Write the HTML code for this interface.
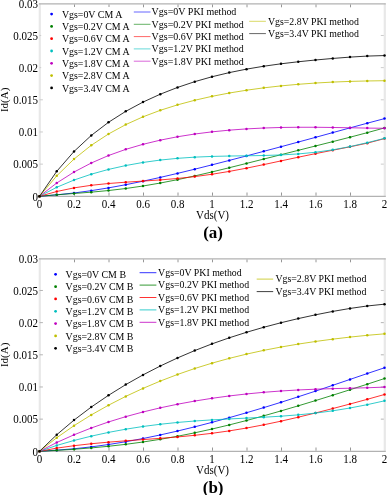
<!DOCTYPE html>
<html><head><meta charset="utf-8"><title>Id-Vds curves</title>
<style>html,body{margin:0;padding:0;background:#fff;width:388px;height:495px;overflow:hidden}svg{display:block}</style>
</head><body>
<svg width="388" height="495" viewBox="0 0 388 495" font-family="'Liberation Serif','Times New Roman',serif">
<rect width="388" height="495" fill="#fff"/>
<path d="M39.8 3.5V196.3M384.8 3.5V196.3" stroke="#e8e8e8" stroke-width="2.2" fill="none"/>
<path d="M38.9 3.9H385.8M38.9 196.3H385.8" stroke="#b2b2b2" stroke-width="1.3" fill="none"/>
<path d="M74.50 195.70v-3.2M74.50 4.50v2.8M109.00 195.70v-3.2M109.00 4.50v2.8M143.50 195.70v-3.2M143.50 4.50v2.8M178.00 195.70v-3.2M178.00 4.50v2.8M212.50 195.70v-3.2M212.50 4.50v2.8M247.00 195.70v-3.2M247.00 4.50v2.8M281.50 195.70v-3.2M281.50 4.50v2.8M316.00 195.70v-3.2M316.00 4.50v2.8M350.50 195.70v-3.2M350.50 4.50v2.8" stroke="#8a8a8a" stroke-width="0.9" fill="none"/>
<path d="M39.5 164.14h3.4M383.8 164.14h-3M39.5 131.97h3.4M383.8 131.97h-3M39.5 99.81h3.4M383.8 99.81h-3M39.5 67.64h3.4M383.8 67.64h-3M39.5 35.47h3.4M383.8 35.47h-3" stroke="#cccccc" stroke-width="1" fill="none"/>
<polyline points="39.50,196.30 56.75,194.84 74.00,192.99 91.25,190.65 108.50,187.88 125.75,184.71 143.00,181.20 160.25,177.40 177.50,173.38 194.75,169.18 212.00,164.85 229.25,160.42 246.50,155.91 263.75,151.34 281.00,146.72 298.25,142.05 315.50,137.35 332.75,132.62 350.00,127.88 367.25,123.19 384.50,118.62" fill="none" stroke="#0000ff" stroke-width="0.8"/>
<g fill="#0000ff"><circle cx="39.50" cy="196.30" r="1.25"/><circle cx="56.75" cy="194.84" r="1.25"/><circle cx="74.00" cy="192.99" r="1.25"/><circle cx="91.25" cy="190.65" r="1.25"/><circle cx="108.50" cy="187.88" r="1.25"/><circle cx="125.75" cy="184.71" r="1.25"/><circle cx="143.00" cy="181.20" r="1.25"/><circle cx="160.25" cy="177.40" r="1.25"/><circle cx="177.50" cy="173.38" r="1.25"/><circle cx="194.75" cy="169.18" r="1.25"/><circle cx="212.00" cy="164.85" r="1.25"/><circle cx="229.25" cy="160.42" r="1.25"/><circle cx="246.50" cy="155.91" r="1.25"/><circle cx="263.75" cy="151.34" r="1.25"/><circle cx="281.00" cy="146.72" r="1.25"/><circle cx="298.25" cy="142.05" r="1.25"/><circle cx="315.50" cy="137.35" r="1.25"/><circle cx="332.75" cy="132.62" r="1.25"/><circle cx="350.00" cy="127.88" r="1.25"/><circle cx="367.25" cy="123.19" r="1.25"/><circle cx="384.50" cy="118.62" r="1.25"/></g>
<polyline points="39.50,196.30 56.75,194.78 74.00,193.51 91.25,192.17 108.50,190.54 125.75,188.50 143.00,186.00 160.25,183.04 177.50,179.66 194.75,175.93 212.00,171.93 229.25,167.73 246.50,163.42 263.75,159.06 281.00,154.69 298.25,150.33 315.50,145.98 332.75,141.63 350.00,137.21 367.25,132.67 384.50,127.93" fill="none" stroke="#008000" stroke-width="0.8"/>
<g fill="#008000"><circle cx="39.50" cy="196.30" r="1.25"/><circle cx="56.75" cy="194.78" r="1.25"/><circle cx="74.00" cy="193.51" r="1.25"/><circle cx="91.25" cy="192.17" r="1.25"/><circle cx="108.50" cy="190.54" r="1.25"/><circle cx="125.75" cy="188.50" r="1.25"/><circle cx="143.00" cy="186.00" r="1.25"/><circle cx="160.25" cy="183.04" r="1.25"/><circle cx="177.50" cy="179.66" r="1.25"/><circle cx="194.75" cy="175.93" r="1.25"/><circle cx="212.00" cy="171.93" r="1.25"/><circle cx="229.25" cy="167.73" r="1.25"/><circle cx="246.50" cy="163.42" r="1.25"/><circle cx="263.75" cy="159.06" r="1.25"/><circle cx="281.00" cy="154.69" r="1.25"/><circle cx="298.25" cy="150.33" r="1.25"/><circle cx="315.50" cy="145.98" r="1.25"/><circle cx="332.75" cy="141.63" r="1.25"/><circle cx="350.00" cy="137.21" r="1.25"/><circle cx="367.25" cy="132.67" r="1.25"/><circle cx="384.50" cy="127.93" r="1.25"/></g>
<polyline points="39.50,196.30 56.75,191.50 74.00,187.89 91.25,185.31 108.50,183.51 125.75,182.20 143.00,181.09 160.25,179.92 177.50,178.48 194.75,176.62 212.00,174.26 229.25,171.42 246.50,168.16 263.75,164.60 281.00,160.90 298.25,157.21 315.50,153.64 332.75,150.22 350.00,146.82 367.25,143.15 384.50,138.60" fill="none" stroke="#ff0000" stroke-width="0.8"/>
<g fill="#ff0000"><circle cx="39.50" cy="196.30" r="1.25"/><circle cx="56.75" cy="191.50" r="1.25"/><circle cx="74.00" cy="187.89" r="1.25"/><circle cx="91.25" cy="185.31" r="1.25"/><circle cx="108.50" cy="183.51" r="1.25"/><circle cx="125.75" cy="182.20" r="1.25"/><circle cx="143.00" cy="181.09" r="1.25"/><circle cx="160.25" cy="179.92" r="1.25"/><circle cx="177.50" cy="178.48" r="1.25"/><circle cx="194.75" cy="176.62" r="1.25"/><circle cx="212.00" cy="174.26" r="1.25"/><circle cx="229.25" cy="171.42" r="1.25"/><circle cx="246.50" cy="168.16" r="1.25"/><circle cx="263.75" cy="164.60" r="1.25"/><circle cx="281.00" cy="160.90" r="1.25"/><circle cx="298.25" cy="157.21" r="1.25"/><circle cx="315.50" cy="153.64" r="1.25"/><circle cx="332.75" cy="150.22" r="1.25"/><circle cx="350.00" cy="146.82" r="1.25"/><circle cx="367.25" cy="143.15" r="1.25"/><circle cx="384.50" cy="138.60" r="1.25"/></g>
<polyline points="39.50,196.30 56.75,187.29 74.00,180.06 91.25,174.20 108.50,169.42 125.75,165.54 143.00,162.45 160.25,160.07 177.50,158.33 194.75,157.15 212.00,156.43 229.25,156.03 246.50,155.79 263.75,155.50 281.00,154.95 298.25,153.93 315.50,152.27 332.75,149.84 350.00,146.60 367.25,142.67 384.50,138.35" fill="none" stroke="#00bfbf" stroke-width="0.8"/>
<g fill="#00bfbf"><circle cx="39.50" cy="196.30" r="1.25"/><circle cx="56.75" cy="187.29" r="1.25"/><circle cx="74.00" cy="180.06" r="1.25"/><circle cx="91.25" cy="174.20" r="1.25"/><circle cx="108.50" cy="169.42" r="1.25"/><circle cx="125.75" cy="165.54" r="1.25"/><circle cx="143.00" cy="162.45" r="1.25"/><circle cx="160.25" cy="160.07" r="1.25"/><circle cx="177.50" cy="158.33" r="1.25"/><circle cx="194.75" cy="157.15" r="1.25"/><circle cx="212.00" cy="156.43" r="1.25"/><circle cx="229.25" cy="156.03" r="1.25"/><circle cx="246.50" cy="155.79" r="1.25"/><circle cx="263.75" cy="155.50" r="1.25"/><circle cx="281.00" cy="154.95" r="1.25"/><circle cx="298.25" cy="153.93" r="1.25"/><circle cx="315.50" cy="152.27" r="1.25"/><circle cx="332.75" cy="149.84" r="1.25"/><circle cx="350.00" cy="146.60" r="1.25"/><circle cx="367.25" cy="142.67" r="1.25"/><circle cx="384.50" cy="138.35" r="1.25"/></g>
<polyline points="39.50,196.30 56.75,182.99 74.00,172.06 91.25,163.01 108.50,155.53 125.75,149.37 143.00,144.30 160.25,140.15 177.50,136.76 194.75,134.03 212.00,131.85 229.25,130.16 246.50,128.90 263.75,128.02 281.00,127.48 298.25,127.25 315.50,127.26 332.75,127.47 350.00,127.78 367.25,128.10 384.50,128.27" fill="none" stroke="#bf00bf" stroke-width="0.8"/>
<g fill="#bf00bf"><circle cx="39.50" cy="196.30" r="1.25"/><circle cx="56.75" cy="182.99" r="1.25"/><circle cx="74.00" cy="172.06" r="1.25"/><circle cx="91.25" cy="163.01" r="1.25"/><circle cx="108.50" cy="155.53" r="1.25"/><circle cx="125.75" cy="149.37" r="1.25"/><circle cx="143.00" cy="144.30" r="1.25"/><circle cx="160.25" cy="140.15" r="1.25"/><circle cx="177.50" cy="136.76" r="1.25"/><circle cx="194.75" cy="134.03" r="1.25"/><circle cx="212.00" cy="131.85" r="1.25"/><circle cx="229.25" cy="130.16" r="1.25"/><circle cx="246.50" cy="128.90" r="1.25"/><circle cx="263.75" cy="128.02" r="1.25"/><circle cx="281.00" cy="127.48" r="1.25"/><circle cx="298.25" cy="127.25" r="1.25"/><circle cx="315.50" cy="127.26" r="1.25"/><circle cx="332.75" cy="127.47" r="1.25"/><circle cx="350.00" cy="127.78" r="1.25"/><circle cx="367.25" cy="128.10" r="1.25"/><circle cx="384.50" cy="128.27" r="1.25"/></g>
<polyline points="39.50,196.30 56.75,175.83 74.00,159.07 91.25,145.30 108.50,133.97 125.75,124.60 143.00,116.82 160.25,110.32 177.50,104.86 194.75,100.25 212.00,96.34 229.25,93.02 246.50,90.21 263.75,87.85 281.00,85.89 298.25,84.30 315.50,83.04 332.75,82.08 350.00,81.40 367.25,80.96 384.50,80.71" fill="none" stroke="#bfbf00" stroke-width="0.8"/>
<g fill="#bfbf00"><circle cx="39.50" cy="196.30" r="1.25"/><circle cx="56.75" cy="175.83" r="1.25"/><circle cx="74.00" cy="159.07" r="1.25"/><circle cx="91.25" cy="145.30" r="1.25"/><circle cx="108.50" cy="133.97" r="1.25"/><circle cx="125.75" cy="124.60" r="1.25"/><circle cx="143.00" cy="116.82" r="1.25"/><circle cx="160.25" cy="110.32" r="1.25"/><circle cx="177.50" cy="104.86" r="1.25"/><circle cx="194.75" cy="100.25" r="1.25"/><circle cx="212.00" cy="96.34" r="1.25"/><circle cx="229.25" cy="93.02" r="1.25"/><circle cx="246.50" cy="90.21" r="1.25"/><circle cx="263.75" cy="87.85" r="1.25"/><circle cx="281.00" cy="85.89" r="1.25"/><circle cx="298.25" cy="84.30" r="1.25"/><circle cx="315.50" cy="83.04" r="1.25"/><circle cx="332.75" cy="82.08" r="1.25"/><circle cx="350.00" cy="81.40" r="1.25"/><circle cx="367.25" cy="80.96" r="1.25"/><circle cx="384.50" cy="80.71" r="1.25"/></g>
<polyline points="39.50,196.30 56.75,171.30 74.00,151.47 91.25,135.44 108.50,122.29 125.75,111.33 143.00,102.08 160.25,94.19 177.50,87.44 194.75,81.66 212.00,76.75 229.25,72.61 246.50,69.13 263.75,66.23 281.00,63.81 298.25,61.76 315.50,60.00 332.75,58.45 350.00,57.12 367.25,56.09 384.50,55.55" fill="none" stroke="#000000" stroke-width="0.8"/>
<g fill="#000000"><circle cx="39.50" cy="196.30" r="1.25"/><circle cx="56.75" cy="171.30" r="1.25"/><circle cx="74.00" cy="151.47" r="1.25"/><circle cx="91.25" cy="135.44" r="1.25"/><circle cx="108.50" cy="122.29" r="1.25"/><circle cx="125.75" cy="111.33" r="1.25"/><circle cx="143.00" cy="102.08" r="1.25"/><circle cx="160.25" cy="94.19" r="1.25"/><circle cx="177.50" cy="87.44" r="1.25"/><circle cx="194.75" cy="81.66" r="1.25"/><circle cx="212.00" cy="76.75" r="1.25"/><circle cx="229.25" cy="72.61" r="1.25"/><circle cx="246.50" cy="69.13" r="1.25"/><circle cx="263.75" cy="66.23" r="1.25"/><circle cx="281.00" cy="63.81" r="1.25"/><circle cx="298.25" cy="61.76" r="1.25"/><circle cx="315.50" cy="60.00" r="1.25"/><circle cx="332.75" cy="58.45" r="1.25"/><circle cx="350.00" cy="57.12" r="1.25"/><circle cx="367.25" cy="56.09" r="1.25"/><circle cx="384.50" cy="55.55" r="1.25"/></g>
<rect x="41.2" y="7" width="87" height="88" fill="#fff"/>
<circle cx="51.6" cy="14.10" r="1.4" fill="#0000ff"/>
<text transform="matrix(1.0 0 0 1.08 61.90 17.80)" font-size="9.9">Vgs=0V CM A</text>
<circle cx="51.6" cy="26.40" r="1.4" fill="#008000"/>
<text transform="matrix(1.0 0 0 1.08 61.90 30.10)" font-size="9.9">Vgs=0.2V CM A</text>
<circle cx="51.6" cy="38.70" r="1.4" fill="#ff0000"/>
<text transform="matrix(1.0 0 0 1.08 61.90 42.40)" font-size="9.9">Vgs=0.6V CM A</text>
<circle cx="51.6" cy="51.00" r="1.4" fill="#00bfbf"/>
<text transform="matrix(1.0 0 0 1.08 61.90 54.70)" font-size="9.9">Vgs=1.2V CM A</text>
<circle cx="51.6" cy="63.30" r="1.4" fill="#bf00bf"/>
<text transform="matrix(1.0 0 0 1.08 61.90 67.00)" font-size="9.9">Vgs=1.8V CM A</text>
<circle cx="51.6" cy="75.60" r="1.4" fill="#bfbf00"/>
<text transform="matrix(1.0 0 0 1.08 61.90 79.30)" font-size="9.9">Vgs=2.8V CM A</text>
<circle cx="51.6" cy="87.90" r="1.4" fill="#000000"/>
<text transform="matrix(1.0 0 0 1.08 61.90 91.60)" font-size="9.9">Vgs=3.4V CM A</text>
<path d="M133.8 12.00H150.5" stroke="#0000ff" stroke-width="1" stroke-opacity="0.6"/>
<text transform="matrix(1.0 0 0 1.08 151.60 15.30)" font-size="10">Vgs=0V PKI method</text>
<path d="M133.8 24.30H150.5" stroke="#008000" stroke-width="1" stroke-opacity="0.6"/>
<text transform="matrix(1.0 0 0 1.08 151.60 27.60)" font-size="10">Vgs=0.2V PKI method</text>
<path d="M133.8 36.60H150.5" stroke="#ff0000" stroke-width="1" stroke-opacity="0.6"/>
<text transform="matrix(1.0 0 0 1.08 151.60 39.90)" font-size="10">Vgs=0.6V PKI method</text>
<path d="M133.8 48.90H150.5" stroke="#00bfbf" stroke-width="1" stroke-opacity="0.6"/>
<text transform="matrix(1.0 0 0 1.08 151.60 52.20)" font-size="10">Vgs=1.2V PKI method</text>
<path d="M133.8 61.20H150.5" stroke="#bf00bf" stroke-width="1" stroke-opacity="0.6"/>
<text transform="matrix(1.0 0 0 1.08 151.60 64.50)" font-size="10">Vgs=1.8V PKI method</text>
<path d="M249.2 21.30H265.9" stroke="#bfbf00" stroke-width="1" stroke-opacity="0.6"/>
<text transform="matrix(1.0 0 0 1.08 267.90 24.60)" font-size="9.85">Vgs=2.8V PKI method</text>
<path d="M249.2 33.60H265.9" stroke="#000000" stroke-width="1" stroke-opacity="0.6"/>
<text transform="matrix(1.0 0 0 1.08 267.90 36.90)" font-size="9.85">Vgs=3.4V PKI method</text>
<g font-size="11" fill="#000"><text transform="matrix(1.0 0 0 1.08 39.50 207.90)" text-anchor="middle">0</text><text transform="matrix(1.0 0 0 1.08 74.00 207.90)" text-anchor="middle">0.2</text><text transform="matrix(1.0 0 0 1.08 108.50 207.90)" text-anchor="middle">0.4</text><text transform="matrix(1.0 0 0 1.08 143.00 207.90)" text-anchor="middle">0.6</text><text transform="matrix(1.0 0 0 1.08 177.50 207.90)" text-anchor="middle">0.8</text><text transform="matrix(1.0 0 0 1.08 212.00 207.90)" text-anchor="middle">1</text><text transform="matrix(1.0 0 0 1.08 246.50 207.90)" text-anchor="middle">1.2</text><text transform="matrix(1.0 0 0 1.08 281.00 207.90)" text-anchor="middle">1.4</text><text transform="matrix(1.0 0 0 1.08 315.50 207.90)" text-anchor="middle">1.6</text><text transform="matrix(1.0 0 0 1.08 350.00 207.90)" text-anchor="middle">1.8</text><text transform="matrix(1.0 0 0 1.08 384.50 207.90)" text-anchor="middle">2</text><text transform="matrix(1.0 0 0 1.08 37.90 200.60)" text-anchor="end">0</text><text transform="matrix(1.0 0 0 1.08 37.90 168.44)" text-anchor="end">0.005</text><text transform="matrix(1.0 0 0 1.08 37.90 136.27)" text-anchor="end">0.01</text><text transform="matrix(1.0 0 0 1.08 37.90 104.11)" text-anchor="end">0.015</text><text transform="matrix(1.0 0 0 1.08 37.90 71.94)" text-anchor="end">0.02</text><text transform="matrix(1.0 0 0 1.08 37.90 39.77)" text-anchor="end">0.025</text><text transform="matrix(1.0 0 0 1.08 37.90 7.61)" text-anchor="end">0.03</text></g>
<text transform="matrix(1.0 0 0 1.06 212.50 219.40)" text-anchor="middle" font-size="11">Vds(V)</text>
<text transform="translate(8.3 99.90) rotate(-90)" text-anchor="middle" font-size="11">Id(A)</text>
<text transform="matrix(1.0 0 0 0.97 213.10 238.10)" text-anchor="middle" font-size="17" font-weight="bold">(a)</text>
<path d="M39.8 258.5V451.3M384.8 258.5V451.3" stroke="#e8e8e8" stroke-width="2.2" fill="none"/>
<path d="M38.9 258.9H385.8M38.9 451.3H385.8" stroke="#b2b2b2" stroke-width="1.3" fill="none"/>
<path d="M74.50 450.70v-3.2M74.50 259.50v2.8M109.00 450.70v-3.2M109.00 259.50v2.8M143.50 450.70v-3.2M143.50 259.50v2.8M178.00 450.70v-3.2M178.00 259.50v2.8M212.50 450.70v-3.2M212.50 259.50v2.8M247.00 450.70v-3.2M247.00 259.50v2.8M281.50 450.70v-3.2M281.50 259.50v2.8M316.00 450.70v-3.2M316.00 259.50v2.8M350.50 450.70v-3.2M350.50 259.50v2.8" stroke="#8a8a8a" stroke-width="0.9" fill="none"/>
<path d="M39.5 419.13h3.4M383.8 419.13h-3M39.5 386.97h3.4M383.8 386.97h-3M39.5 354.81h3.4M383.8 354.81h-3M39.5 322.64h3.4M383.8 322.64h-3M39.5 290.48h3.4M383.8 290.48h-3" stroke="#b4b4b4" stroke-width="1" fill="none"/>
<polyline points="39.50,451.30 56.75,450.15 74.00,448.76 91.25,446.89 108.50,444.54 125.75,441.74 143.00,438.53 160.25,434.95 177.50,431.04 194.75,426.84 212.00,422.37 229.25,417.66 246.50,412.74 263.75,407.61 281.00,402.29 298.25,396.78 315.50,391.11 332.75,385.31 350.00,379.43 367.25,373.54 384.50,367.77" fill="none" stroke="#0000ff" stroke-width="0.8"/>
<g fill="#0000ff"><circle cx="39.50" cy="451.30" r="1.25"/><circle cx="56.75" cy="450.15" r="1.25"/><circle cx="74.00" cy="448.76" r="1.25"/><circle cx="91.25" cy="446.89" r="1.25"/><circle cx="108.50" cy="444.54" r="1.25"/><circle cx="125.75" cy="441.74" r="1.25"/><circle cx="143.00" cy="438.53" r="1.25"/><circle cx="160.25" cy="434.95" r="1.25"/><circle cx="177.50" cy="431.04" r="1.25"/><circle cx="194.75" cy="426.84" r="1.25"/><circle cx="212.00" cy="422.37" r="1.25"/><circle cx="229.25" cy="417.66" r="1.25"/><circle cx="246.50" cy="412.74" r="1.25"/><circle cx="263.75" cy="407.61" r="1.25"/><circle cx="281.00" cy="402.29" r="1.25"/><circle cx="298.25" cy="396.78" r="1.25"/><circle cx="315.50" cy="391.11" r="1.25"/><circle cx="332.75" cy="385.31" r="1.25"/><circle cx="350.00" cy="379.43" r="1.25"/><circle cx="367.25" cy="373.54" r="1.25"/><circle cx="384.50" cy="367.77" r="1.25"/></g>
<polyline points="39.50,451.30 56.75,450.37 74.00,449.26 91.25,447.91 108.50,446.28 125.75,444.32 143.00,442.00 160.25,439.31 177.50,436.25 194.75,432.82 212.00,429.03 229.25,424.92 246.50,420.50 263.75,415.82 281.00,410.92 298.25,405.83 315.50,400.58 332.75,395.21 350.00,389.74 367.25,384.18 384.50,378.53" fill="none" stroke="#008000" stroke-width="0.8"/>
<g fill="#008000"><circle cx="39.50" cy="451.30" r="1.25"/><circle cx="56.75" cy="450.37" r="1.25"/><circle cx="74.00" cy="449.26" r="1.25"/><circle cx="91.25" cy="447.91" r="1.25"/><circle cx="108.50" cy="446.28" r="1.25"/><circle cx="125.75" cy="444.32" r="1.25"/><circle cx="143.00" cy="442.00" r="1.25"/><circle cx="160.25" cy="439.31" r="1.25"/><circle cx="177.50" cy="436.25" r="1.25"/><circle cx="194.75" cy="432.82" r="1.25"/><circle cx="212.00" cy="429.03" r="1.25"/><circle cx="229.25" cy="424.92" r="1.25"/><circle cx="246.50" cy="420.50" r="1.25"/><circle cx="263.75" cy="415.82" r="1.25"/><circle cx="281.00" cy="410.92" r="1.25"/><circle cx="298.25" cy="405.83" r="1.25"/><circle cx="315.50" cy="400.58" r="1.25"/><circle cx="332.75" cy="395.21" r="1.25"/><circle cx="350.00" cy="389.74" r="1.25"/><circle cx="367.25" cy="384.18" r="1.25"/><circle cx="384.50" cy="378.53" r="1.25"/></g>
<polyline points="39.50,451.30 56.75,448.12 74.00,445.71 91.25,443.74 108.50,442.15 125.75,440.80 143.00,439.58 160.25,438.34 177.50,436.95 194.75,435.30 212.00,433.30 229.25,430.89 246.50,428.06 263.75,424.80 281.00,421.16 298.25,417.19 315.50,412.97 332.75,408.55 350.00,404.00 367.25,399.32 384.50,394.47" fill="none" stroke="#ff0000" stroke-width="0.8"/>
<g fill="#ff0000"><circle cx="39.50" cy="451.30" r="1.25"/><circle cx="56.75" cy="448.12" r="1.25"/><circle cx="74.00" cy="445.71" r="1.25"/><circle cx="91.25" cy="443.74" r="1.25"/><circle cx="108.50" cy="442.15" r="1.25"/><circle cx="125.75" cy="440.80" r="1.25"/><circle cx="143.00" cy="439.58" r="1.25"/><circle cx="160.25" cy="438.34" r="1.25"/><circle cx="177.50" cy="436.95" r="1.25"/><circle cx="194.75" cy="435.30" r="1.25"/><circle cx="212.00" cy="433.30" r="1.25"/><circle cx="229.25" cy="430.89" r="1.25"/><circle cx="246.50" cy="428.06" r="1.25"/><circle cx="263.75" cy="424.80" r="1.25"/><circle cx="281.00" cy="421.16" r="1.25"/><circle cx="298.25" cy="417.19" r="1.25"/><circle cx="315.50" cy="412.97" r="1.25"/><circle cx="332.75" cy="408.55" r="1.25"/><circle cx="350.00" cy="404.00" r="1.25"/><circle cx="367.25" cy="399.32" r="1.25"/><circle cx="384.50" cy="394.47" r="1.25"/></g>
<polyline points="39.50,451.30 56.75,445.44 74.00,440.47 91.25,436.15 108.50,432.40 125.75,429.19 143.00,426.48 160.25,424.25 177.50,422.44 194.75,421.01 212.00,419.88 229.25,418.95 246.50,418.11 263.75,417.23 281.00,416.19 298.25,414.85 315.50,413.09 332.75,410.83 350.00,408.01 367.25,404.65 384.50,400.84" fill="none" stroke="#00bfbf" stroke-width="0.8"/>
<g fill="#00bfbf"><circle cx="39.50" cy="451.30" r="1.25"/><circle cx="56.75" cy="445.44" r="1.25"/><circle cx="74.00" cy="440.47" r="1.25"/><circle cx="91.25" cy="436.15" r="1.25"/><circle cx="108.50" cy="432.40" r="1.25"/><circle cx="125.75" cy="429.19" r="1.25"/><circle cx="143.00" cy="426.48" r="1.25"/><circle cx="160.25" cy="424.25" r="1.25"/><circle cx="177.50" cy="422.44" r="1.25"/><circle cx="194.75" cy="421.01" r="1.25"/><circle cx="212.00" cy="419.88" r="1.25"/><circle cx="229.25" cy="418.95" r="1.25"/><circle cx="246.50" cy="418.11" r="1.25"/><circle cx="263.75" cy="417.23" r="1.25"/><circle cx="281.00" cy="416.19" r="1.25"/><circle cx="298.25" cy="414.85" r="1.25"/><circle cx="315.50" cy="413.09" r="1.25"/><circle cx="332.75" cy="410.83" r="1.25"/><circle cx="350.00" cy="408.01" r="1.25"/><circle cx="367.25" cy="404.65" r="1.25"/><circle cx="384.50" cy="400.84" r="1.25"/></g>
<polyline points="39.50,451.30 56.75,442.51 74.00,434.81 91.25,427.99 108.50,421.96 125.75,416.65 143.00,411.97 160.25,407.84 177.50,404.23 194.75,401.06 212.00,398.31 229.25,395.95 246.50,393.96 263.75,392.31 281.00,390.99 298.25,389.96 315.50,389.20 332.75,388.64 350.00,388.20 367.25,387.75 384.50,387.12" fill="none" stroke="#bf00bf" stroke-width="0.8"/>
<g fill="#bf00bf"><circle cx="39.50" cy="451.30" r="1.25"/><circle cx="56.75" cy="442.51" r="1.25"/><circle cx="74.00" cy="434.81" r="1.25"/><circle cx="91.25" cy="427.99" r="1.25"/><circle cx="108.50" cy="421.96" r="1.25"/><circle cx="125.75" cy="416.65" r="1.25"/><circle cx="143.00" cy="411.97" r="1.25"/><circle cx="160.25" cy="407.84" r="1.25"/><circle cx="177.50" cy="404.23" r="1.25"/><circle cx="194.75" cy="401.06" r="1.25"/><circle cx="212.00" cy="398.31" r="1.25"/><circle cx="229.25" cy="395.95" r="1.25"/><circle cx="246.50" cy="393.96" r="1.25"/><circle cx="263.75" cy="392.31" r="1.25"/><circle cx="281.00" cy="390.99" r="1.25"/><circle cx="298.25" cy="389.96" r="1.25"/><circle cx="315.50" cy="389.20" r="1.25"/><circle cx="332.75" cy="388.64" r="1.25"/><circle cx="350.00" cy="388.20" r="1.25"/><circle cx="367.25" cy="387.75" r="1.25"/><circle cx="384.50" cy="387.12" r="1.25"/></g>
<polyline points="39.50,451.30 56.75,437.71 74.00,425.68 91.25,414.92 108.50,405.21 125.75,396.39 143.00,388.38 160.25,381.09 177.50,374.48 194.75,368.51 212.00,363.15 229.25,358.37 246.50,354.11 263.75,350.35 281.00,347.02 298.25,344.08 315.50,341.47 332.75,339.15 350.00,337.10 367.25,335.31 384.50,333.83" fill="none" stroke="#bfbf00" stroke-width="0.8"/>
<g fill="#bfbf00"><circle cx="39.50" cy="451.30" r="1.25"/><circle cx="56.75" cy="437.71" r="1.25"/><circle cx="74.00" cy="425.68" r="1.25"/><circle cx="91.25" cy="414.92" r="1.25"/><circle cx="108.50" cy="405.21" r="1.25"/><circle cx="125.75" cy="396.39" r="1.25"/><circle cx="143.00" cy="388.38" r="1.25"/><circle cx="160.25" cy="381.09" r="1.25"/><circle cx="177.50" cy="374.48" r="1.25"/><circle cx="194.75" cy="368.51" r="1.25"/><circle cx="212.00" cy="363.15" r="1.25"/><circle cx="229.25" cy="358.37" r="1.25"/><circle cx="246.50" cy="354.11" r="1.25"/><circle cx="263.75" cy="350.35" r="1.25"/><circle cx="281.00" cy="347.02" r="1.25"/><circle cx="298.25" cy="344.08" r="1.25"/><circle cx="315.50" cy="341.47" r="1.25"/><circle cx="332.75" cy="339.15" r="1.25"/><circle cx="350.00" cy="337.10" r="1.25"/><circle cx="367.25" cy="335.31" r="1.25"/><circle cx="384.50" cy="333.83" r="1.25"/></g>
<polyline points="39.50,451.30 56.75,434.72 74.00,420.11 91.25,407.06 108.50,395.30 125.75,384.62 143.00,374.90 160.25,366.03 177.50,357.94 194.75,350.57 212.00,343.87 229.25,337.80 246.50,332.29 263.75,327.28 281.00,322.73 298.25,318.59 315.50,314.82 332.75,311.42 350.00,308.44 367.25,305.97 384.50,304.18" fill="none" stroke="#000000" stroke-width="0.8"/>
<g fill="#000000"><circle cx="39.50" cy="451.30" r="1.25"/><circle cx="56.75" cy="434.72" r="1.25"/><circle cx="74.00" cy="420.11" r="1.25"/><circle cx="91.25" cy="407.06" r="1.25"/><circle cx="108.50" cy="395.30" r="1.25"/><circle cx="125.75" cy="384.62" r="1.25"/><circle cx="143.00" cy="374.90" r="1.25"/><circle cx="160.25" cy="366.03" r="1.25"/><circle cx="177.50" cy="357.94" r="1.25"/><circle cx="194.75" cy="350.57" r="1.25"/><circle cx="212.00" cy="343.87" r="1.25"/><circle cx="229.25" cy="337.80" r="1.25"/><circle cx="246.50" cy="332.29" r="1.25"/><circle cx="263.75" cy="327.28" r="1.25"/><circle cx="281.00" cy="322.73" r="1.25"/><circle cx="298.25" cy="318.59" r="1.25"/><circle cx="315.50" cy="314.82" r="1.25"/><circle cx="332.75" cy="311.42" r="1.25"/><circle cx="350.00" cy="308.44" r="1.25"/><circle cx="367.25" cy="305.97" r="1.25"/><circle cx="384.50" cy="304.18" r="1.25"/></g>
<circle cx="55.6" cy="274.30" r="1.4" fill="#0000ff"/>
<text transform="matrix(1.0 0 0 1.08 65.60 278.00)" font-size="9.9">Vgs=0V CM B</text>
<circle cx="55.6" cy="286.63" r="1.4" fill="#008000"/>
<text transform="matrix(1.0 0 0 1.08 65.60 290.33)" font-size="9.9">Vgs=0.2V CM B</text>
<circle cx="55.6" cy="298.96" r="1.4" fill="#ff0000"/>
<text transform="matrix(1.0 0 0 1.08 65.60 302.66)" font-size="9.9">Vgs=0.6V CM B</text>
<circle cx="55.6" cy="311.29" r="1.4" fill="#00bfbf"/>
<text transform="matrix(1.0 0 0 1.08 65.60 314.99)" font-size="9.9">Vgs=1.2V CM B</text>
<circle cx="55.6" cy="323.62" r="1.4" fill="#bf00bf"/>
<text transform="matrix(1.0 0 0 1.08 65.60 327.32)" font-size="9.9">Vgs=1.8V CM B</text>
<circle cx="55.6" cy="335.95" r="1.4" fill="#bfbf00"/>
<text transform="matrix(1.0 0 0 1.08 65.60 339.65)" font-size="9.9">Vgs=2.8V CM B</text>
<circle cx="55.6" cy="348.28" r="1.4" fill="#000000"/>
<text transform="matrix(1.0 0 0 1.08 65.60 351.98)" font-size="9.9">Vgs=3.4V CM B</text>
<path d="M139.6 272.70H156.4" stroke="#0000ff" stroke-width="1" stroke-opacity="0.8"/>
<text transform="matrix(1.0 0 0 1.08 158.10 276.00)" font-size="9.85">Vgs=0V PKI method</text>
<path d="M139.6 285.10H156.4" stroke="#008000" stroke-width="1" stroke-opacity="0.8"/>
<text transform="matrix(1.0 0 0 1.08 158.10 288.40)" font-size="9.85">Vgs=0.2V PKI method</text>
<path d="M139.6 297.50H156.4" stroke="#ff0000" stroke-width="1" stroke-opacity="0.8"/>
<text transform="matrix(1.0 0 0 1.08 158.10 300.80)" font-size="9.85">Vgs=0.6V PKI method</text>
<path d="M139.6 309.90H156.4" stroke="#00bfbf" stroke-width="1" stroke-opacity="0.8"/>
<text transform="matrix(1.0 0 0 1.08 158.10 313.20)" font-size="9.85">Vgs=1.2V PKI method</text>
<path d="M139.6 322.30H156.4" stroke="#bf00bf" stroke-width="1" stroke-opacity="0.8"/>
<text transform="matrix(1.0 0 0 1.08 158.10 325.60)" font-size="9.85">Vgs=1.8V PKI method</text>
<path d="M256.7 279.10H273.2" stroke="#bfbf00" stroke-width="1" stroke-opacity="0.75"/>
<text transform="matrix(1.0 0 0 1.08 275.40 282.40)" font-size="9.85">Vgs=2.8V PKI method</text>
<path d="M256.7 291.60H273.2" stroke="#000000" stroke-width="1" stroke-opacity="0.75"/>
<text transform="matrix(1.0 0 0 1.08 275.40 294.90)" font-size="9.85">Vgs=3.4V PKI method</text>
<g font-size="11" fill="#000"><text transform="matrix(1.0 0 0 1.08 39.50 462.90)" text-anchor="middle">0</text><text transform="matrix(1.0 0 0 1.08 74.00 462.90)" text-anchor="middle">0.2</text><text transform="matrix(1.0 0 0 1.08 108.50 462.90)" text-anchor="middle">0.4</text><text transform="matrix(1.0 0 0 1.08 143.00 462.90)" text-anchor="middle">0.6</text><text transform="matrix(1.0 0 0 1.08 177.50 462.90)" text-anchor="middle">0.8</text><text transform="matrix(1.0 0 0 1.08 212.00 462.90)" text-anchor="middle">1</text><text transform="matrix(1.0 0 0 1.08 246.50 462.90)" text-anchor="middle">1.2</text><text transform="matrix(1.0 0 0 1.08 281.00 462.90)" text-anchor="middle">1.4</text><text transform="matrix(1.0 0 0 1.08 315.50 462.90)" text-anchor="middle">1.6</text><text transform="matrix(1.0 0 0 1.08 350.00 462.90)" text-anchor="middle">1.8</text><text transform="matrix(1.0 0 0 1.08 384.50 462.90)" text-anchor="middle">2</text><text transform="matrix(1.0 0 0 1.08 37.90 455.60)" text-anchor="end">0</text><text transform="matrix(1.0 0 0 1.08 37.90 423.44)" text-anchor="end">0.005</text><text transform="matrix(1.0 0 0 1.08 37.90 391.27)" text-anchor="end">0.01</text><text transform="matrix(1.0 0 0 1.08 37.90 359.11)" text-anchor="end">0.015</text><text transform="matrix(1.0 0 0 1.08 37.90 326.94)" text-anchor="end">0.02</text><text transform="matrix(1.0 0 0 1.08 37.90 294.78)" text-anchor="end">0.025</text><text transform="matrix(1.0 0 0 1.08 37.90 262.61)" text-anchor="end">0.03</text></g>
<text transform="matrix(1.0 0 0 1.06 212.50 474.40)" text-anchor="middle" font-size="11">Vds(V)</text>
<text transform="translate(8.3 354.90) rotate(-90)" text-anchor="middle" font-size="11">Id(A)</text>
<text transform="matrix(1.0 0 0 0.97 213.10 493.10)" text-anchor="middle" font-size="17" font-weight="bold">(b)</text>
</svg>
</body></html>
